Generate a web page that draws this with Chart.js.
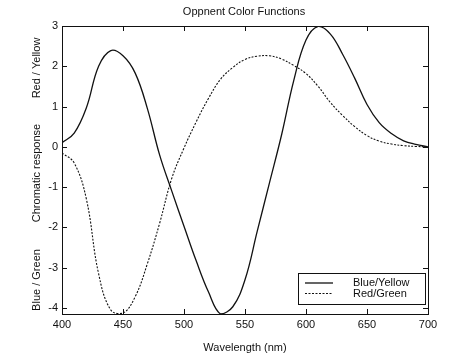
<!DOCTYPE html>
<html><head><meta charset="utf-8">
<script src="https://cdn.jsdelivr.net/npm/chart.js@4/dist/chart.umd.min.js"></script>
<style>html,body{margin:0;padding:0;background:#fff}#wrap{width:474px;height:355px;position:relative}</style>
</head><body><div id="wrap"><canvas id="c"></canvas></div>
<script>
const wavelengths = [400,410,420,430,440,450,460,470,480,490,500,510,520,530,540,550,560,570,580,590,600,610,620,630,640,650,660,670,680,690,700];
const blueYellow = [0.1,0.34,0.97,2.0,2.39,2.26,1.83,0.95,-0.2,-1.1,-1.97,-2.83,-3.6,-4.15,-3.97,-3.3,-2.1,-0.9,0.3,1.65,2.65,2.99,2.8,2.3,1.7,1.05,0.6,0.33,0.15,0.06,0.0];
const redGreen = [-0.15,-0.4,-1.3,-3.15,-4.05,-4.13,-3.72,-2.9,-1.9,-0.78,-0.03,0.62,1.2,1.68,1.97,2.17,2.25,2.26,2.18,2.02,1.82,1.5,1.1,0.78,0.5,0.28,0.14,0.07,0.03,0.01,0.0];
const xTicks = [400,450,500,550,600,650,700];
const yTicks = [-4,-3,-2,-1,0,1,2,3];
const chartTitle = 'Oppnent Color Functions';
const xTitle = 'Wavelength (nm)';
const yTitles = ['Red / Yellow','Chromatic response','Blue / Green'];
const seriesLabels = ['Blue/Yellow','Red/Green'];

const FONT = "'Liberation Sans', Arial, sans-serif";
const INK = '#111';

const frame = {
  id:'frame',
  afterDatasetsDraw(chart){
    const {ctx, chartArea:a, scales:{x,y}} = chart;
    ctx.save();
    ctx.strokeStyle = INK; ctx.lineWidth = 1;
    ctx.strokeRect(Math.round(a.left)+0.5, Math.round(a.top)+0.5, Math.round(a.right-a.left), Math.round(a.bottom-a.top));
    const L = 5;
    ctx.beginPath();
    x.ticks.forEach(t=>{
      const px = Math.round(x.getPixelForValue(t.value))+0.5;
      ctx.moveTo(px,a.bottom); ctx.lineTo(px,a.bottom-L);
      ctx.moveTo(px,a.top); ctx.lineTo(px,a.top+L);
    });
    y.ticks.forEach(t=>{
      const py = Math.round(y.getPixelForValue(t.value))+0.5;
      ctx.moveTo(a.left,py); ctx.lineTo(a.left+L,py);
      ctx.moveTo(a.right,py); ctx.lineTo(a.right-L,py);
    });
    ctx.stroke();
    // y titles
    ctx.fillStyle = INK; ctx.font = '11px '+FONT;
    ctx.textAlign='center'; ctx.textBaseline='middle';
    const centers=[68,173,280];
    yTitles.forEach((s,i)=>{
      ctx.save(); ctx.translate(37,centers[i]); ctx.rotate(-Math.PI/2); ctx.fillText(s,0,0); ctx.restore();
    });
    // legend
    const bx=298, by=273, bw=127, bh=31;
    ctx.fillStyle='#fff'; ctx.fillRect(bx,by,bw,bh);
    ctx.strokeStyle=INK; ctx.lineWidth=1;
    ctx.strokeRect(bx+0.5,by+0.5,bw,bh);
    chart.data.datasets.forEach((ds,i)=>{
      const ly = by+10+i*10.5;
      ctx.save();
      ctx.strokeStyle=ds.borderColor; ctx.lineWidth=ds.borderWidth;
      ctx.setLineDash(ds.borderDash||[]);
      ctx.beginPath(); ctx.moveTo(bx+7,ly); ctx.lineTo(bx+35,ly); ctx.stroke();
      ctx.restore();
      ctx.fillStyle=INK; ctx.textAlign='left'; ctx.textBaseline='middle';
      ctx.fillText(ds.label,bx+55,ly);
    });
    ctx.restore();
  }
};

new Chart(document.getElementById('c'),{
  type:'line',
  data:{datasets:[
    {label:seriesLabels[0],data:wavelengths.map((w,i)=>({x:w,y:blueYellow[i]})),borderColor:INK,borderWidth:1.3,pointRadius:0,tension:0.4,fill:false},
    {label:seriesLabels[1],data:wavelengths.map((w,i)=>({x:w,y:redGreen[i]})),borderColor:INK,borderWidth:1.1,borderDash:[2,1.5],pointRadius:0,tension:0.4,fill:false}
  ]},
  options:{
    responsive:true, maintainAspectRatio:false, animation:false,
    layout:{padding:{left:14,right:0,top:0,bottom:0}},
    plugins:{
      legend:{display:false}, tooltip:{enabled:false},
      title:{display:true,text:chartTitle,color:INK,font:{family:FONT,size:11,weight:'normal',lineHeight:1.2},padding:{top:5.5,bottom:7.3}}
    },
    scales:{
      x:{type:'linear',min:400,max:700,
        afterBuildTicks(s){s.ticks=xTicks.map(v=>({value:v}));},
        afterFit(s){s.height=41;},
        grid:{display:false,drawTicks:false},border:{display:false},
        ticks:{color:INK,font:{family:FONT,size:11},padding:4,maxRotation:0},
        title:{display:true,text:xTitle,color:INK,font:{family:FONT,size:11},padding:{top:1,bottom:0}}
      },
      y:{type:'linear',min:-4.15,max:3,
        afterBuildTicks(s){s.ticks=yTicks.map(v=>({value:v}));},
        afterFit(s){s.width=48;},
        grid:{display:false,drawTicks:false},border:{display:false},
        ticks:{color:INK,font:{family:FONT,size:11},padding:4}
      },
      y2:{type:'linear',position:'right',display:true,min:-4.15,max:3,
        afterFit(s){s.width=46;},
        grid:{display:false,drawTicks:false},border:{display:false},
        ticks:{display:false}
      }
    }
  },
  plugins:[frame]
});
</script></body></html>
